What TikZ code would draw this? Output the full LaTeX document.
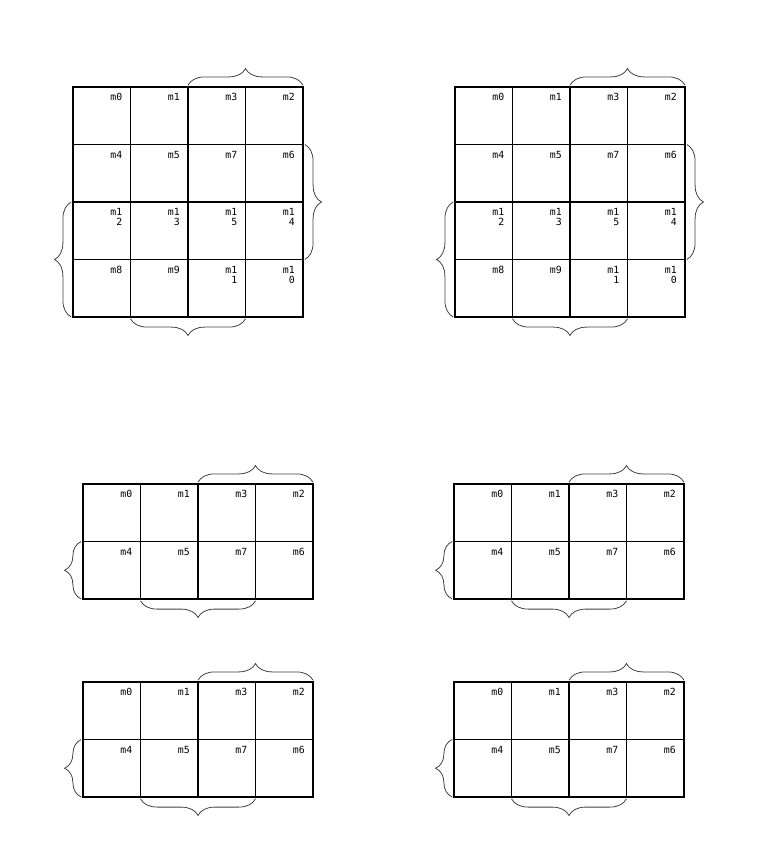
\documentclass[tikz,border=0pt]{standalone}
\usepackage{fontspec}
\setmonofont{DejaVu Sans Mono}
\usepackage{tikz}
\usetikzlibrary{decorations.pathreplacing}

\begin{document}
\begin{tikzpicture}[x=0.02cm,y=-0.02cm,
		cell/.style={draw,line width=0.6pt,minimum size=1.15cm,inner sep=0pt,outer sep=0pt},
		lbl/.style={font=\ttfamily\fontsize{5.6}{5.6}\selectfont,align=right,inner sep=1pt,anchor=north east},
		brc/.style={draw=black!75,line width=0.45pt,decorate,decoration={brace,amplitude=9.5pt,raise=1pt}}]
		\useasboundingbox (0,0) rectangle (768,866);
		%
		\foreach \m/\x/\y/\n in {A/73/87/4,B/455/87/4,C/83/484/2,D/454/484/2,E/83/682/2,F/454/682/2}{
			\foreach \r/\list in {0/{m0,m1,m3,m2},1/{m4,m5,m7,m6},2/{{m1\\2},{m1\\3},{m1\\5},{m1\\4}},3/{m8,m9,{m1\\1},{m1\\0}}}{
				\ifnum\r<\n
				\foreach \t [count=\c from 0] in \list{
					\node[cell] (\m-\r-\c) at (\x+\c*57.5+28.75,\y+\r*57.5+28.75) {};
					\node[lbl] (\m-t-\r-\c) at ([xshift=-3.5pt,yshift=-2.5pt]\m-\r-\c.north east) {\t};
				}
				\fi
			}
			\pgfmathtruncatemacro\last{\n-1}
			\pgfmathtruncatemacro\half{\n/2}
			\draw[brc] (\m-0-2.north west) -- (\m-0-3.north east);
			\draw[brc] (\m-\last-2.south east) -- (\m-\last-1.south west);
			\draw[brc] (\m-\last-0.south west) -- (\m-\half-0.north west);
		}
		%
		\draw[brc] (A-1-3.north east) -- (A-2-3.south east);
		\draw[brc] (B-1-3.north east) -- (B-2-3.south east);
	\end{tikzpicture}
\end{document}
